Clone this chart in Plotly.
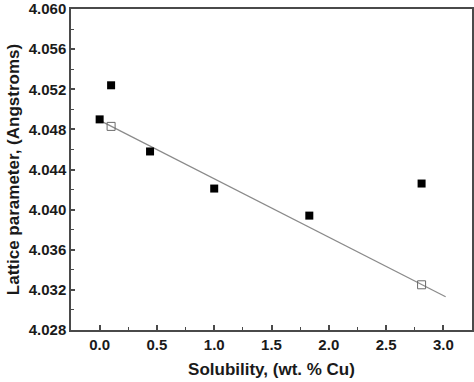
import plotly.graph_objects as go

# Measured lattice parameter (filled squares)
meas_x = [0.0, 0.10, 0.44, 1.0, 1.83, 2.81]
meas_y = [4.0490, 4.0524, 4.0458, 4.0421, 4.0394, 4.0426]

# Reference points (open squares)
ref_x = [0.10, 2.81]
ref_y = [4.0483, 4.0325]

# Linear trend line end points
fit_x = [0.0, 3.02]
fit_y = [4.0489, 4.0313]

x_ticks = [0.0, 0.5, 1.0, 1.5, 2.0, 2.5, 3.0]
x_tick_labels = ["0.0", "0.5", "1.0", "1.5", "2.0", "2.5", "3.0"]
y_ticks = [4.028, 4.032, 4.036, 4.040, 4.044, 4.048, 4.052, 4.056, 4.060]
y_tick_labels = ["4.028", "4.032", "4.036", "4.040", "4.044", "4.048", "4.052", "4.056", "4.060"]

font_family = "Liberation Sans, Arial, sans-serif"

fig = go.Figure()
fig.add_trace(go.Scatter(
    x=fit_x, y=fit_y, mode="lines",
    line=dict(color="#8a8a8a", width=1.2), showlegend=False, hoverinfo="skip"))
fig.add_trace(go.Scatter(
    x=meas_x, y=meas_y, mode="markers",
    marker=dict(symbol="square", size=8, color="black", line=dict(width=0)),
    showlegend=False))
fig.add_trace(go.Scatter(
    x=ref_x, y=ref_y, mode="markers",
    marker=dict(symbol="square-open", size=8, color="#6a6a6a", line=dict(width=1)),
    showlegend=False))

axis_common = dict(
    showgrid=False, zeroline=False, showline=True, linecolor="#4a4a4a", linewidth=1.5,
    mirror=True, ticks="inside", tickcolor="#4a4a4a", tickwidth=1.5, automargin=False,
    ticklabeloverflow="allow",
    tickfont=dict(family=font_family, size=15, color="#1a1a1a", weight="bold"),
)

fig.update_layout(
    width=474, height=382,
    margin=dict(l=71, r=2, t=9, b=52),
    paper_bgcolor="white", plot_bgcolor="white",
    xaxis=dict(
        range=[-0.25, 3.25], tickvals=x_ticks, ticktext=x_tick_labels, ticklen=5,
        minor=dict(dtick=0.25, tick0=0, ticks="inside", ticklen=3, tickcolor="#4a4a4a", tickwidth=1.2),
        title=dict(text="Solubility, (wt. % Cu)", standoff=11,
                   font=dict(family=font_family, size=17, color="#1a1a1a", weight="bold")),
        **axis_common),
    yaxis=dict(
        range=[4.02799, 4.06001], tickvals=y_ticks, ticktext=y_tick_labels, ticklen=4,
        minor=dict(dtick=0.002, tick0=4.028, ticks="inside", ticklen=3, tickcolor="#4a4a4a", tickwidth=1.2),
        title=dict(text="Lattice parameter, (Angstroms)", standoff=5,
                   font=dict(family=font_family, size=17, color="#1a1a1a", weight="bold")),
        **axis_common),
)

fig.write_html("out.html", config={"displayModeBar": False},
               post_script="document.body.style.margin='0';")
